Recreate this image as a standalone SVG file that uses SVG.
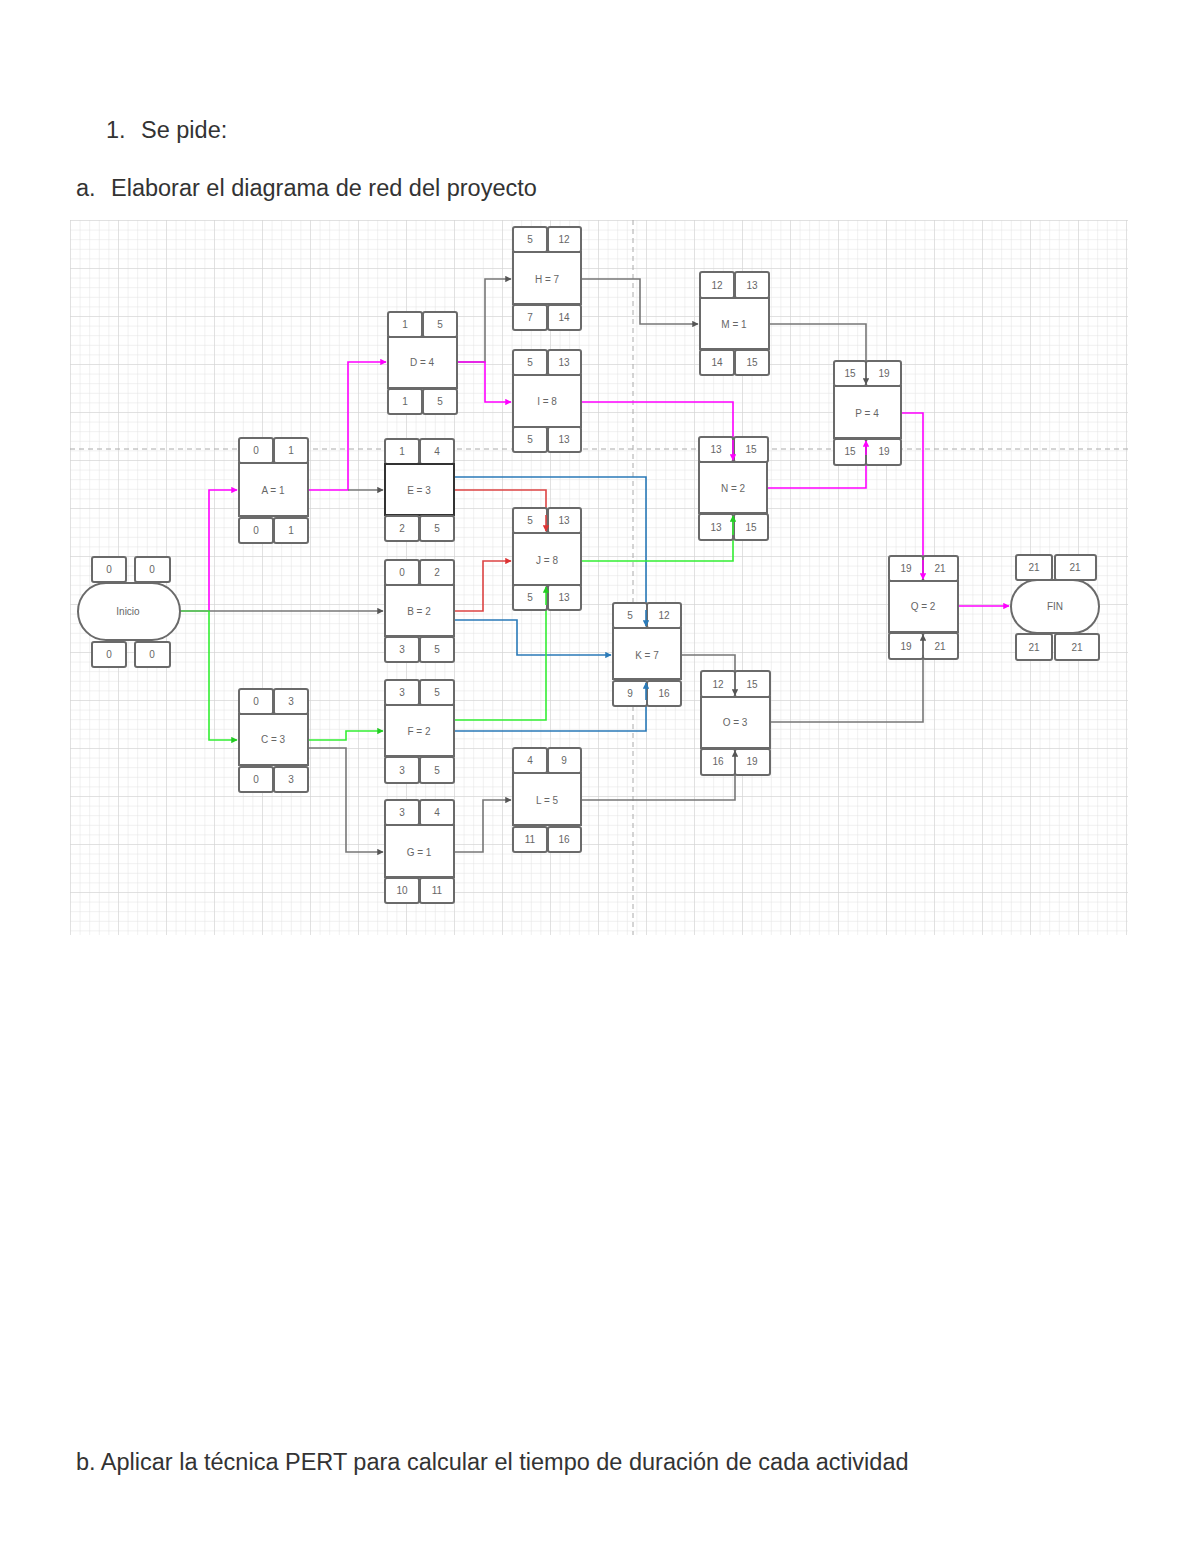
<svg xmlns="http://www.w3.org/2000/svg" width="1200" height="1553" viewBox="0 0 1200 1553">
<defs>
<pattern id="g" x="70" y="220" width="9.6" height="9.6" patternUnits="userSpaceOnUse"><path d="M0 0H9.6M0 0V9.6" stroke="#e2e2e2" stroke-width="1" fill="none"/></pattern>
<pattern id="g2" x="70" y="220" width="48" height="48" patternUnits="userSpaceOnUse"><path d="M0 0H48M0 0V48" stroke="#d2d2d2" stroke-width="1" fill="none"/></pattern>
<marker id="ak" viewBox="0 0 10 10" refX="9" refY="5" markerWidth="4" markerHeight="4" orient="auto"><path d="M0 0L10 5L0 10z" fill="#555"/></marker>
<marker id="am" viewBox="0 0 10 10" refX="9" refY="5" markerWidth="4" markerHeight="4" orient="auto"><path d="M0 0L10 5L0 10z" fill="#f0f"/></marker>
<marker id="ag" viewBox="0 0 10 10" refX="9" refY="5" markerWidth="4" markerHeight="4" orient="auto"><path d="M0 0L10 5L0 10z" fill="#2c2"/></marker>
<marker id="ab" viewBox="0 0 10 10" refX="9" refY="5" markerWidth="4" markerHeight="4" orient="auto"><path d="M0 0L10 5L0 10z" fill="#2a7ab8"/></marker>
<marker id="ar" viewBox="0 0 10 10" refX="9" refY="5" markerWidth="4" markerHeight="4" orient="auto"><path d="M0 0L10 5L0 10z" fill="#d33"/></marker>
</defs>
<style>
.h{font-family:"Liberation Sans",Arial,sans-serif;font-size:23.5px;fill:#333}
.c rect,.c path.s{fill:#fff;stroke:#6a6a6a;stroke-width:2}
.c text{font-family:"Liberation Sans",Arial,sans-serif;font-size:10px;fill:#666;text-anchor:middle;dominant-baseline:central}
.l path{fill:none;stroke-width:1.6}
.k{stroke:#777;marker-end:url(#ak)}
.m{stroke:#f0f;marker-end:url(#am)}
.gr{stroke:#3e3;marker-end:url(#ag)}
.b{stroke:#2a7ab8;marker-end:url(#ab)}
.r{stroke:#d44;marker-end:url(#ar)}
</style>
<rect width="1200" height="1553" fill="#fff"/>
<text class="h" x="106" y="138">1.</text><text class="h" x="141" y="138">Se pide:</text>
<text class="h" x="76" y="196">a.</text><text class="h" x="111" y="196">Elaborar el diagrama de red del proyecto</text>
<text class="h" x="76" y="1470">b. Aplicar la técnica PERT para calcular el tiempo de duración de cada actividad</text>
<rect x="70" y="220" width="1058" height="715" fill="url(#g)"/>
<rect x="70" y="220" width="1058" height="715" fill="url(#g2)"/>
<path d="M70 449H1128M633 220V935" stroke="#aaa" stroke-dasharray="5 4" fill="none"/>
<g class="l" id="connectors">
<path class="m" d="M180 611H209V490H237"/>
<path class="k" d="M209 611H383"/>
<path class="gr" d="M180 611H209V740H237"/>
<path class="m" d="M308 490H348V362H386"/>
<path class="k" d="M348 490H383"/>
<path class="k" d="M457 362H485V279H511"/>
<path class="m" d="M457 362H485V402H511"/>
<path class="k" d="M581 279H640V324H698"/>
<path class="m" d="M581 402H733V460"/>
<path class="k" d="M769 324H866V384"/>
<path class="m" d="M768 488H866V441"/>
<path class="m" d="M901 413H923V579"/>
<path class="m" d="M957 606H1009"/>
<path class="b" d="M454 477H646V626"/>
<path class="r" d="M454 490H546V531"/>
<path class="r" d="M454 611H483V561H511"/>
<path class="b" d="M454 620H517V655H611"/>
<path class="gr" d="M581 561H733V516"/>
<path class="gr" d="M454 720H546V587"/>
<path class="b" d="M454 731H646V683"/>
<path class="gr" d="M308 740H346V731H383"/>
<path class="k" d="M308 748H346V852H383"/>
<path class="k" d="M454 852H483V800H511"/>
<path class="k" d="M681 655H735V695"/>
<path class="k" d="M581 800H735V751"/>
<path class="k" d="M770 722H923V635"/>
</g>
<g class="c" id="inicio"><path class="s" d="M106 583H152A28 28.5 0 0 1 152 640H106A28 28.5 0 0 1 106 583Z"/><text x="128" y="611">Inicio</text>
<rect x="92" y="557" width="34" height="25" rx="2"/><text x="109" y="569">0</text><rect x="135" y="557" width="35" height="25" rx="2"/><text x="152" y="569">0</text>
<rect x="92" y="642" width="34" height="25" rx="2"/><text x="109" y="654">0</text><rect x="135" y="642" width="35" height="25" rx="2"/><text x="152" y="654">0</text></g>
<g class="c" id="fin"><path class="s" d="M1037 580H1073A26 26.5 0 0 1 1073 633H1037A26 26.5 0 0 1 1037 580Z"/><text x="1055" y="606">FIN</text>
<rect x="1016" y="555" width="36" height="25" rx="2"/><text x="1034" y="567">21</text><rect x="1055" y="555" width="41" height="25" rx="2"/><text x="1075" y="567">21</text>
<rect x="1016" y="634" width="36" height="26" rx="2"/><text x="1034" y="647">21</text><rect x="1055" y="634" width="44" height="26" rx="2"/><text x="1077" y="647">21</text></g>
<g class="c" id="A"><rect x="239" y="438" width="34" height="25" rx="2"/><text x="256" y="450">0</text><rect x="274" y="438" width="34" height="25" rx="2"/><text x="291" y="450">1</text><rect x="239" y="463" width="69" height="53"/><text x="273" y="490">A = 1</text><rect x="239" y="518" width="34" height="25" rx="2"/><text x="256" y="530">0</text><rect x="274" y="518" width="34" height="25" rx="2"/><text x="291" y="530">1</text></g>
<g class="c" id="D"><rect x="388" y="312" width="34" height="25" rx="2"/><text x="405" y="324">1</text><rect x="423" y="312" width="34" height="25" rx="2"/><text x="440" y="324">5</text><rect x="388" y="337" width="69" height="51"/><text x="422" y="362">D = 4</text><rect x="388" y="389" width="34" height="25" rx="2"/><text x="405" y="401">1</text><rect x="423" y="389" width="34" height="25" rx="2"/><text x="440" y="401">5</text></g>
<g class="c" id="E"><rect x="385" y="439" width="34" height="25" rx="2"/><text x="402" y="451">1</text><rect x="420" y="439" width="34" height="25" rx="2"/><text x="437" y="451">4</text><rect x="385" y="464" width="69" height="51" style="stroke:#333"/><text x="419" y="490">E = 3</text><rect x="385" y="516" width="34" height="25" rx="2"/><text x="402" y="528">2</text><rect x="420" y="516" width="34" height="25" rx="2"/><text x="437" y="528">5</text></g>
<g class="c" id="H"><rect x="513" y="227" width="34" height="25" rx="2"/><text x="530" y="239">5</text><rect x="548" y="227" width="33" height="25" rx="2"/><text x="564" y="239">12</text><rect x="513" y="252" width="68" height="52"/><text x="547" y="279">H = 7</text><rect x="513" y="305" width="34" height="25" rx="2"/><text x="530" y="317">7</text><rect x="548" y="305" width="33" height="25" rx="2"/><text x="564" y="317">14</text></g>
<g class="c" id="I"><rect x="513" y="350" width="34" height="25" rx="2"/><text x="530" y="362">5</text><rect x="548" y="350" width="33" height="25" rx="2"/><text x="564" y="362">13</text><rect x="513" y="375" width="68" height="52"/><text x="547" y="401">I = 8</text><rect x="513" y="427" width="34" height="25" rx="2"/><text x="530" y="439">5</text><rect x="548" y="427" width="33" height="25" rx="2"/><text x="564" y="439">13</text></g>
<g class="c" id="J"><rect x="513" y="508" width="34" height="25" rx="2"/><text x="530" y="520">5</text><rect x="548" y="508" width="33" height="25" rx="2"/><text x="564" y="520">13</text><rect x="513" y="533" width="68" height="52"/><text x="547" y="560">J = 8</text><rect x="513" y="585" width="34" height="25" rx="2"/><text x="530" y="597">5</text><rect x="548" y="585" width="33" height="25" rx="2"/><text x="564" y="597">13</text></g>
<g class="c" id="B"><rect x="385" y="560" width="34" height="25" rx="2"/><text x="402" y="572">0</text><rect x="420" y="560" width="34" height="25" rx="2"/><text x="437" y="572">2</text><rect x="385" y="585" width="69" height="51"/><text x="419" y="611">B = 2</text><rect x="385" y="637" width="34" height="25" rx="2"/><text x="402" y="649">3</text><rect x="420" y="637" width="34" height="25" rx="2"/><text x="437" y="649">5</text></g>
<g class="c" id="C"><rect x="239" y="689" width="34" height="25" rx="2"/><text x="256" y="701">0</text><rect x="274" y="689" width="34" height="25" rx="2"/><text x="291" y="701">3</text><rect x="239" y="714" width="69" height="51"/><text x="273" y="739">C = 3</text><rect x="239" y="767" width="34" height="25" rx="2"/><text x="256" y="779">0</text><rect x="274" y="767" width="34" height="25" rx="2"/><text x="291" y="779">3</text></g>
<g class="c" id="F"><rect x="385" y="680" width="34" height="25" rx="2"/><text x="402" y="692">3</text><rect x="420" y="680" width="34" height="25" rx="2"/><text x="437" y="692">5</text><rect x="385" y="705" width="69" height="51"/><text x="419" y="731">F = 2</text><rect x="385" y="757" width="34" height="26" rx="2"/><text x="402" y="770">3</text><rect x="420" y="757" width="34" height="26" rx="2"/><text x="437" y="770">5</text></g>
<g class="c" id="G"><rect x="385" y="800" width="34" height="25" rx="2"/><text x="402" y="812">3</text><rect x="420" y="800" width="34" height="25" rx="2"/><text x="437" y="812">4</text><rect x="385" y="825" width="69" height="52"/><text x="419" y="852">G = 1</text><rect x="385" y="878" width="34" height="25" rx="2"/><text x="402" y="890">10</text><rect x="420" y="878" width="34" height="25" rx="2"/><text x="437" y="890">11</text></g>
<g class="c" id="L"><rect x="513" y="748" width="34" height="25" rx="2"/><text x="530" y="760">4</text><rect x="548" y="748" width="33" height="25" rx="2"/><text x="564" y="760">9</text><rect x="513" y="773" width="68" height="52"/><text x="547" y="800">L = 5</text><rect x="513" y="827" width="34" height="25" rx="2"/><text x="530" y="839">11</text><rect x="548" y="827" width="33" height="25" rx="2"/><text x="564" y="839">16</text></g>
<g class="c" id="K"><rect x="613" y="603" width="34" height="25" rx="2"/><text x="630" y="615">5</text><rect x="647" y="603" width="34" height="25" rx="2"/><text x="664" y="615">12</text><rect x="613" y="628" width="68" height="51"/><text x="647" y="655">K = 7</text><rect x="613" y="681" width="34" height="25" rx="2"/><text x="630" y="693">9</text><rect x="647" y="681" width="34" height="25" rx="2"/><text x="664" y="693">16</text></g>
<g class="c" id="O"><rect x="701" y="671" width="34" height="26" rx="2"/><text x="718" y="684">12</text><rect x="735" y="671" width="35" height="26" rx="2"/><text x="752" y="684">15</text><rect x="701" y="697" width="69" height="51"/><text x="735" y="722">O = 3</text><rect x="701" y="749" width="34" height="26" rx="2"/><text x="718" y="761">16</text><rect x="735" y="749" width="35" height="26" rx="2"/><text x="752" y="761">19</text></g>
<g class="c" id="M"><rect x="700" y="272" width="34" height="26" rx="2"/><text x="717" y="285">12</text><rect x="735" y="272" width="34" height="26" rx="2"/><text x="752" y="285">13</text><rect x="700" y="298" width="69" height="51"/><text x="734" y="324">M = 1</text><rect x="700" y="350" width="34" height="25" rx="2"/><text x="717" y="362">14</text><rect x="735" y="350" width="34" height="25" rx="2"/><text x="752" y="362">15</text></g>
<g class="c" id="N"><rect x="699" y="437" width="34" height="25" rx="2"/><text x="716" y="449">13</text><rect x="734" y="437" width="34" height="25" rx="2"/><text x="751" y="449">15</text><rect x="699" y="462" width="68" height="51"/><text x="733" y="488">N = 2</text><rect x="699" y="514" width="34" height="26" rx="2"/><text x="716" y="527">13</text><rect x="734" y="514" width="34" height="26" rx="2"/><text x="751" y="527">15</text></g>
<g class="c" id="P"><rect x="834" y="361" width="32" height="25" rx="2"/><text x="850" y="373">15</text><rect x="866" y="361" width="35" height="25" rx="2"/><text x="884" y="373">19</text><rect x="834" y="386" width="67" height="52"/><text x="867" y="413">P = 4</text><rect x="834" y="439" width="32" height="26" rx="2"/><text x="850" y="451">15</text><rect x="866" y="439" width="35" height="26" rx="2"/><text x="884" y="451">19</text></g>
<g class="c" id="Q"><rect x="889" y="556" width="34" height="25" rx="2"/><text x="906" y="568">19</text><rect x="923" y="556" width="35" height="25" rx="2"/><text x="940" y="568">21</text><rect x="889" y="581" width="69" height="51"/><text x="923" y="606">Q = 2</text><rect x="889" y="633" width="34" height="26" rx="2"/><text x="906" y="646">19</text><rect x="923" y="633" width="35" height="26" rx="2"/><text x="940" y="646">21</text></g>
<g class="l" id="overlay-arrows">
<path class="m" d="M733 440V460"/><path class="m" d="M866 455V441"/><path class="m" d="M923 560V579"/>
<path class="b" d="M646 610V626"/><path class="r" d="M546 515V531"/><path class="gr" d="M733 535V516"/><path class="gr" d="M546 605V587"/><path class="b" d="M646 700V683"/>
<path class="k" d="M866 370V384"/><path class="k" d="M735 680V695"/><path class="k" d="M735 770V751"/><path class="k" d="M923 655V635"/>
</g>
</svg>
